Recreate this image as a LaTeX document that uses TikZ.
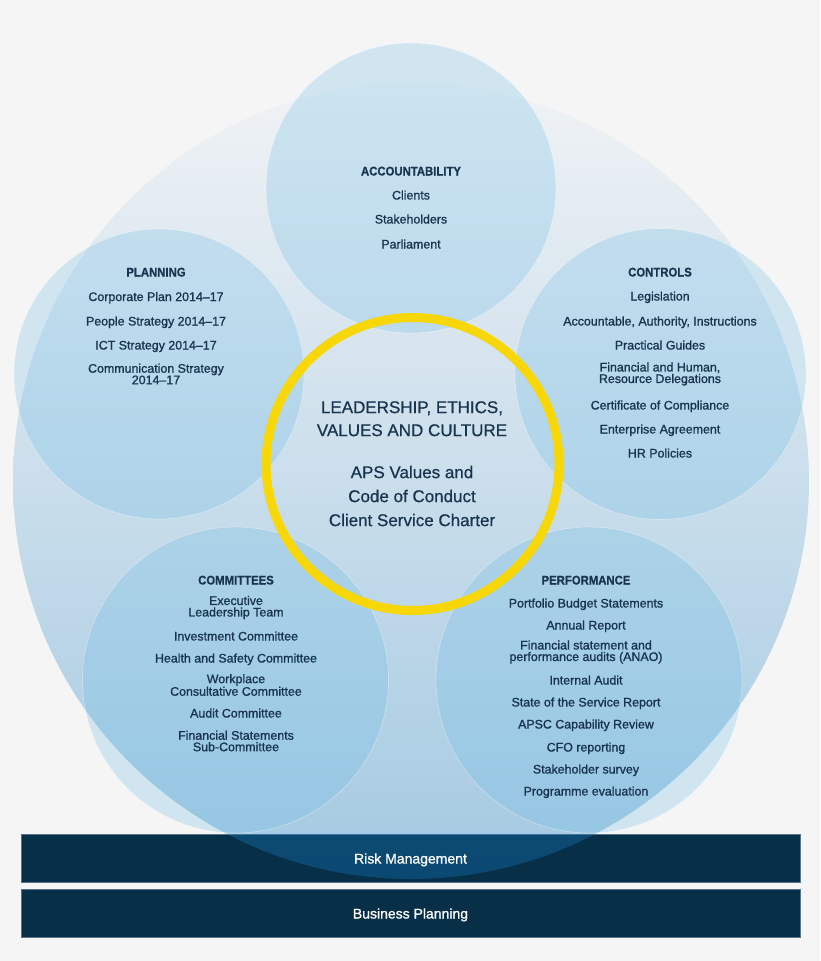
\documentclass[tikz,border=0pt]{standalone}
\usepackage{fontspec}
\setmainfont{Liberation Sans}
\newfontfamily\itemf[FakeBold=1.1]{Liberation Sans}
\newfontfamily\headf[FakeStretch=0.9,FakeBold=0.6]{Liberation Sans}
\newfontfamily\coref[FakeBold=0.6]{Liberation Sans}
\definecolor{bgc}{HTML}{F5F5F5}
\definecolor{bigtop}{HTML}{E8EFF6}
\definecolor{bigbot}{HTML}{0D79C0}
\definecolor{smallc}{HTML}{65B9E5}
\definecolor{navytext}{HTML}{18344F}
\definecolor{barc}{HTML}{082F48}
\definecolor{baredge}{HTML}{56748A}
\definecolor{ringc}{HTML}{F7D708}
\tikzset{
  smallcirc/.style={circle, inner sep=0pt, outer sep=0pt, fill=smallc, fill opacity=0.25, draw=white, draw opacity=0.35, line width=0.7pt},
  barbox/.style={rectangle, inner sep=0pt, fill=barc, draw=baredge, line width=0.6pt, minimum width=779pt, minimum height=48pt},
  bartext/.style={text=white, font=\itemf\fontsize{14}{16}\selectfont, inner sep=0pt, text height=10pt, text depth=0pt},
  item/.style={text=navytext, font=\itemf\fontsize{12.4}{11.5}\selectfont, inner sep=0pt, text height=9pt, text depth=0pt},
  itemtwo/.style={text=navytext, font=\itemf\fontsize{12.4}{11.5}\selectfont, inner sep=0pt, align=center},
  head/.style={text=navytext, font=\headf\bfseries\fontsize{12.6}{14}\selectfont, inner sep=0pt, text height=9pt, text depth=0pt},
  core/.style={text=navytext, font=\coref\fontsize{17}{20}\selectfont, inner sep=0pt, text height=12.2pt, text depth=0pt}
}
\begin{document}
\begin{tikzpicture}[x=1pt,y=-1pt]
\fill[bgc] (0,0) rectangle (820,961);
\useasboundingbox (0,0) rectangle (820,961);
% bars
\node[barbox] (riskbar) at (410.5,858.5) {};
\node[barbox] (bizbar) at (410.5,913.5) {};
% big circle
\node[circle, inner sep=0pt, outer sep=0pt, minimum size=796pt, top color=bigtop, bottom color=bigbot, fill opacity=0.35, draw=none] (big) at (411,481) {};
% small circles
\node[smallcirc, minimum size=290pt] (acc) at (411,188) {};
\node[smallcirc, minimum size=290pt] (plan) at (159,374) {};
\node[smallcirc, minimum size=291pt] (ctrl) at (660.5,374) {};
\node[smallcirc, minimum size=306pt] (comm) at (235.5,680) {};
\node[smallcirc, minimum size=306pt] (perf) at (589,680) {};
% yellow ring
\node[circle, inner sep=0pt, outer sep=0pt, minimum size=293pt, draw=ringc, line width=9pt] (ring) at (412.5,464) {};
% bar texts
\node[bartext] (risk) at (riskbar) {Risk Management};
\node[bartext] (biz) at (bizbar) {Business Planning};
% accountability
\node[head] (acch) at (411,171) {ACCOUNTABILITY};
\node[item] (acc1) at (411,195) {Clients};
\node[item] (acc2) at (411,219) {Stakeholders};
\node[item] (acc3) at (411,244) {Parliament};
% planning
\node[head] (planh) at (156,272) {PLANNING};
\node[item] (plan1) at (156,296.5) {Corporate Plan 2014–17};
\node[item] (plan2) at (156,321) {People Strategy 2014–17};
\node[item] (plan3) at (156,345) {ICT Strategy 2014–17};
\node[itemtwo] (plan4) at (156,374) {Communication Strategy\\2014–17};
% controls
\node[head] (ctrlh) at (660,272) {CONTROLS};
\node[item] (ctrl1) at (660,296) {Legislation};
\node[item] (ctrl2) at (660,321) {Accountable, Authority, Instructions};
\node[item] (ctrl3) at (660,345) {Practical Guides};
\node[itemtwo] (ctrl4) at (660,374) {Financial and Human,\\Resource Delegations};
\node[item] (ctrl5) at (660,405) {Certificate of Compliance};
\node[item] (ctrl6) at (660,429) {Enterprise Agreement};
\node[item] (ctrl7) at (660,453) {HR Policies};
% centre
\node[core] (core1) at (412,407) {LEADERSHIP, ETHICS,};
\node[core] (core2) at (412,430) {VALUES AND CULTURE};
\node[core] (core3) at (412,472) {APS Values and};
\node[core] (core4) at (412,496) {Code of Conduct};
\node[core] (core5) at (412,520) {Client Service Charter};
% committees
\node[head] (commh) at (236,580) {COMMITTEES};
\node[itemtwo] (comm1) at (236,607.5) {Executive\\Leadership Team};
\node[item] (comm2) at (236,636) {Investment Committee};
\node[item] (comm3) at (236,658) {Health and Safety Committee};
\node[itemtwo] (comm4) at (236,685) {Workplace\\Consultative Committee};
\node[item] (comm5) at (236,713) {Audit Committee};
\node[itemtwo] (comm6) at (236,741) {Financial Statements\\Sub-Committee};
% performance
\node[head] (perfh) at (586,580) {PERFORMANCE};
\node[item] (perf1) at (586,603) {Portfolio Budget Statements};
\node[item] (perf2) at (586,625) {Annual Report};
\node[itemtwo] (perf3) at (586,652) {Financial statement and\\performance audits (ANAO)};
\node[item] (perf4) at (586,680) {Internal Audit};
\node[item] (perf5) at (586,702) {State of the Service Report};
\node[item] (perf6) at (586,724) {APSC Capability Review};
\node[item] (perf7) at (586,747) {CFO reporting};
\node[item] (perf8) at (586,769) {Stakeholder survey};
\node[item] (perf9) at (586,791) {Programme evaluation};
\end{tikzpicture}
\end{document}
